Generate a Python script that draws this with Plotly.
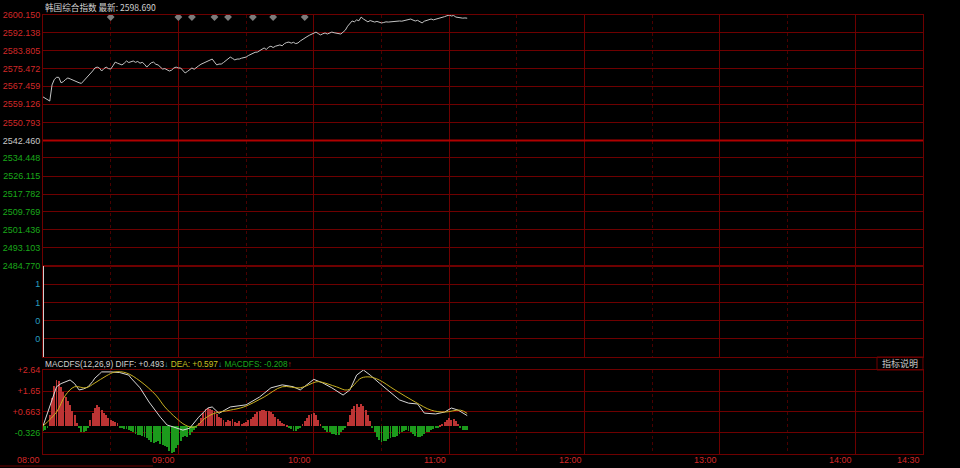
import plotly.graph_objects as go

# ---------------- data ----------------
index_name = "韩国综合指数"
latest = 2598.690
prev_close = 2542.460

price_ticks = [2600.150, 2592.138, 2583.805, 2575.472, 2567.459, 2559.126, 2550.793,
               2542.460, 2534.448, 2526.115, 2517.782, 2509.769, 2501.436, 2493.103, 2484.770]
pct_labels = ["2.27%", "1.95%", "1.63%", "1.30%", "0.98%", "0.66%", "0.33%", "0.00%",
              "0.32%", "0.64%", "0.97%", "1.29%", "1.61%", "1.94%", "2.27%"]
time_ticks = [0, 60, 120, 180, 240, 300, 360, 390]
time_labels = ["08:00", "09:00", "10:00", "11:00", "12:00", "13:00", "14:00", "14:30"]
half_hours = [30, 90, 150, 210, 270, 330]

price = [
    2562.5, 2561.8, 2561.0, 2560.6, 2568.0, 2570.5, 2571.5, 2571.5, 2569.0, 2569.5,
    2570.5, 2571.2, 2570.8, 2570.3, 2569.8, 2569.5, 2569.0, 2568.7, 2569.8, 2571.0,
    2571.8, 2573.0, 2574.4, 2575.8, 2576.2, 2575.8, 2574.4, 2575.5, 2576.2, 2575.5,
    2575.3, 2576.8, 2578.5, 2578.0, 2577.5, 2577.2, 2578.0, 2579.0, 2578.3, 2578.5,
    2579.0, 2578.4, 2578.8, 2578.0, 2578.4, 2577.5, 2576.2, 2577.3, 2578.2, 2578.5,
    2577.5, 2577.2, 2576.0, 2575.3, 2575.5, 2574.8, 2574.4, 2574.8, 2575.8, 2576.2,
    2575.8, 2575.8, 2574.6, 2573.5, 2574.2, 2575.0, 2575.8, 2575.2, 2575.8, 2576.8,
    2577.5, 2578.0, 2578.6, 2579.0, 2579.5, 2579.9, 2578.5, 2577.2, 2577.6, 2577.6,
    2578.3, 2579.2, 2580.2, 2580.8, 2580.2, 2579.5, 2579.9, 2579.9, 2580.3, 2580.6,
    2580.8, 2581.5, 2582.0, 2582.5, 2583.0, 2583.1, 2583.8, 2584.5, 2585.0, 2584.3,
    2585.4, 2585.8, 2585.2, 2585.8, 2586.2, 2586.4, 2586.0, 2587.0, 2587.5, 2587.7,
    2587.2, 2587.6, 2587.0, 2587.3, 2588.2, 2589.0, 2589.6, 2590.2, 2590.8, 2591.4,
    2591.8, 2592.3, 2591.6, 2591.0, 2591.5, 2591.9, 2591.4, 2592.0, 2592.3, 2592.0,
    2591.7, 2591.4, 2591.4, 2592.3, 2593.2, 2595.0, 2596.2, 2597.4, 2597.0, 2597.9,
    2597.5, 2599.2, 2598.3, 2597.5, 2597.0, 2597.6, 2597.4, 2596.9, 2597.2, 2596.8,
    2596.5, 2596.7, 2597.0, 2596.9, 2597.0, 2597.4, 2597.2, 2597.5, 2597.4, 2597.3,
    2597.6, 2598.0, 2598.2, 2598.3, 2597.8, 2597.4, 2597.7, 2597.2, 2596.5, 2597.3,
    2597.6, 2598.0, 2598.3, 2597.9, 2598.2, 2598.4, 2598.6, 2598.8, 2599.4, 2599.8,
    2600.1, 2599.7, 2599.9, 2599.2, 2599.0, 2598.8, 2598.7, 2598.8, 2598.69,
]
minutes = list(range(len(price)))

event_minutes = [30, 60, 66, 76, 82, 93, 102, 116]

volume_minutes = [0]
volume = [1.0]
vol_ticks = [0.2, 0.4, 0.6, 0.8]
vol_labels = ["0", "0", "1", "1"]

macd_hist = [
    -0.25, -0.2, -0.1, 0.5, 1.3, 1.9, 2.17, 2.1, 1.85, 1.6,
    1.37, 1.2, 1.0, 0.7, 0.5, 0.15, -0.1, -0.28, -0.3, -0.25,
    -0.05, 0.3, 0.6, 0.85, 1.0, 0.9, 0.75, 0.6, 0.5, 0.4,
    0.3, 0.25, 0.2, 0.15, -0.05, -0.1, -0.12, -0.15, -0.2, -0.25,
    -0.3, -0.35, -0.4, -0.42, -0.45, -0.5, -0.55, -0.65, -0.75, -0.8,
    -0.75, -0.7, -0.85, -0.9, -0.95, -1.0, -1.15, -1.27, -1.2, -1.05,
    -0.9, -0.7, -0.52, -0.45, -0.5, -0.42, -0.3, -0.2, -0.05, 0.15,
    0.4, 0.6, 0.8, 0.85, 0.8, 0.75, 0.7, 0.55, 0.45, 0.38,
    0.3, 0.2, 0.3, 0.25, 0.35, 0.2, 0.15, 0.25, 0.1, 0.15,
    0.2, 0.3, 0.35, 0.45, 0.55, 0.65, 0.7, 0.75, 0.75, 0.7,
    0.72, 0.65, 0.55, 0.45, 0.35, 0.25, 0.15, 0.1, 0.05, -0.05,
    -0.15, -0.24, -0.22, -0.15, -0.05, 0.1, 0.25, 0.4, 0.5, 0.55,
    0.6, 0.5, 0.3, 0.1, -0.1, -0.2, -0.28, -0.3, -0.35, -0.38,
    -0.42, -0.4, -0.3, -0.2, -0.1, 0.2, 0.5, 0.8, 0.95, 1.04,
    0.9, 1.04, 0.95, 0.75, 0.5, 0.25, -0.1, -0.3, -0.5, -0.65,
    -0.76, -0.72, -0.68, -0.6, -0.55, -0.52, -0.5, -0.45, -0.38, -0.3,
    -0.25, -0.2, -0.22, -0.28, -0.35, -0.45, -0.52, -0.5, -0.45, -0.38,
    -0.3, -0.28, -0.2, -0.15, -0.1, -0.05, 0.05, 0.1, 0.2, 0.3,
    0.38, 0.3, 0.35, 0.25, 0.1, -0.1, -0.18, -0.2, -0.208,
]
hist_minutes = list(range(len(macd_hist)))

diff_minutes = [0, 3, 6, 8, 10, 12, 14, 16, 18, 20, 22, 23, 25, 26, 30, 34, 38, 39, 43, 47,
                52, 55, 58, 62, 65, 69, 73, 75, 78, 83, 90, 96, 101, 106, 111, 114, 120,
                124, 128, 133, 136, 139, 142, 145, 149, 154, 158, 162, 166, 169, 174, 178,
                181, 184, 188]
diff_values = [0.0, 0.9, 1.85, 2.0, 2.08, 2.17, 2.0, 1.7, 1.75, 1.85, 2.1, 2.26, 2.45, 2.55,
               2.55, 2.52, 2.4, 2.26, 1.8, 1.13, 0.42, 0.05, -0.05, -0.19, -0.1, 0.42, 0.85,
               0.9, 0.6, 0.9, 1.0, 1.37, 1.8, 1.94, 1.85, 1.7, 2.2, 2.03, 1.8, 1.46, 1.7,
               2.4, 2.64, 2.4, 2.03, 1.56, 1.23, 1.08, 1.04, 0.61, 0.57, 0.66, 0.85, 0.75,
               0.493]

dea_minutes = [0, 6, 10, 14, 19, 23, 28, 32, 37, 43, 50, 54, 59, 63, 67, 72, 76, 83, 89, 98,
               106, 114, 121, 123, 130, 135, 141, 145, 149, 156, 165, 172, 178, 185, 188]
dea_values = [0.0, 0.66, 1.46, 1.85, 1.8, 2.03, 2.36, 2.55, 2.5, 2.12, 1.46, 0.9, 0.38, 0.05,
              -0.05, 0.38, 0.6, 0.75, 0.9, 1.37, 1.85, 1.8, 2.08, 2.08, 1.85, 1.7, 2.26, 2.31,
              2.17, 1.7, 1.13, 0.75, 0.66, 0.75, 0.597]

macd_ticks = [2.64, 1.651, 0.663, -0.326]
macd_labels = ["+2.64", "+1.65", "+0.663", "-0.326"]
macd_range = [-1.315, 2.64]

# ---------------- style ----------------
BG = "#000000"
GRID = "#6e0000"
GRID_MINOR = "#4a0000"
MID = "#b00000"
RED = "#d22828"
GREEN = "#1aa81a"
GRAY_TXT = "#c8c8c8"
TEAL = "#2a9ec0"
FONT = "Liberation Sans, Arial, Noto Sans CJK SC, sans-serif"

W, H = 960, 468
L, R, T, B = 43, 37, 15, 14
plot_h = H - T - B


def py(px):  # pixel row -> paper fraction
    return (H - B - px) / plot_h


def px_x(px):
    return (px - L) / (W - L - R)


def col(text, color):
    return f'<span style="color:{color}">{text}</span>'


price_text = []
pct_text = []
for v, p in zip(price_ticks, pct_labels):
    c = RED if v > prev_close else (GRAY_TXT if v == prev_close else GREEN)
    price_text.append(col(f"{v:.3f}", c))
    pct_text.append(col(p, c))

macd_text = [col(t, RED if v > 0 else GREEN) for v, t in zip(macd_ticks, macd_labels)]

fig = go.Figure()

fig.add_trace(go.Scatter(x=minutes, y=price, mode="lines",
                         line=dict(color="#c4c4c4", width=1), xaxis="x", yaxis="y",
                         hoverinfo="skip"))
fig.add_trace(go.Scatter(x=event_minutes, y=[0.992] * len(event_minutes), mode="markers",
                         marker=dict(symbol="diamond", size=6, color="#7c7c7c"),
                         xaxis="x", yaxis="y5", hoverinfo="skip"))
fig.add_trace(go.Bar(x=volume_minutes, y=volume, width=0.6, marker=dict(color="#d0d0d0", line=dict(width=0)),
                     xaxis="x2", yaxis="y3", hoverinfo="skip"))
fig.add_trace(go.Bar(x=hist_minutes, y=macd_hist, width=0.4,
                     marker=dict(color=["#bc3434" if v >= 0 else "#1c9a1c" for v in macd_hist],
                                 line=dict(width=0)),
                     xaxis="x3", yaxis="y4", hoverinfo="skip"))
fig.add_trace(go.Scatter(x=diff_minutes, y=diff_values, mode="lines",
                         line=dict(color="#d8d8d8", width=1), xaxis="x3", yaxis="y4",
                         hoverinfo="skip"))
fig.add_trace(go.Scatter(x=dea_minutes, y=dea_values, mode="lines", line_shape="spline",
                         line=dict(color="#c8b020", width=1), xaxis="x3", yaxis="y4",
                         hoverinfo="skip"))

xcommon = dict(range=[0, 390], tickmode="array", tickvals=time_ticks[:-1], showticklabels=False,
               showgrid=True, gridcolor=GRID, gridwidth=1, zeroline=False, automargin=False,
               showline=True, mirror=True, linecolor=GRID, linewidth=1, ticks="",
               minor=dict(tickmode="array", tickvals=half_hours, showgrid=True,
                          gridcolor=GRID_MINOR, griddash="dot", gridwidth=1))

ycommon = dict(showgrid=True, gridcolor=GRID, gridwidth=1, zeroline=False, ticks="",
               showline=True, mirror=True, linecolor=GRID, linewidth=1, automargin=False,
               tickfont=dict(size=9, family=FONT, color=GRAY_TXT), tickmode="array")

price_dom = [py(266), 1.0]
vol_dom = [py(357), py(266)]
macd_dom = [0.0, py(370)]

fig.update_layout(
    width=W, height=H, margin=dict(l=L, r=R, t=T, b=B, autoexpand=False),
    paper_bgcolor=BG, plot_bgcolor=BG, showlegend=False, bargap=0,
    font=dict(family=FONT, size=9, color=GRAY_TXT),
    xaxis=dict(anchor="y", **xcommon),
    xaxis2=dict(anchor="y3", matches="x", **xcommon),
    xaxis3=dict(anchor="y4", matches="x", **xcommon),
    yaxis=dict(domain=price_dom, range=[price_ticks[-1], price_ticks[0]],
               tickvals=price_ticks, ticktext=price_text, anchor="x", **ycommon),
    yaxis2=dict(overlaying="y", side="right", anchor="x", range=[price_ticks[-1], price_ticks[0]],
                tickmode="array", tickvals=price_ticks, ticktext=pct_text, showgrid=False,
                zeroline=False, showline=False, ticks="", automargin=False,
                tickfont=dict(size=9, family=FONT, color=GRAY_TXT)),
    yaxis3=dict(domain=vol_dom, range=[0, 1], tickvals=vol_ticks,
                ticktext=[col(t, TEAL) for t in vol_labels], anchor="x2", **ycommon),
    yaxis4=dict(domain=macd_dom, range=macd_range, tickvals=macd_ticks, ticktext=macd_text,
                anchor="x3", **ycommon),
    yaxis5=dict(overlaying="y", range=[0, 1], visible=False, anchor="x"),
)

shapes = [
    dict(type="line", xref="paper", yref="y", x0=0, x1=1, y0=prev_close, y1=prev_close,
         line=dict(color=MID, width=2), layer="above"),
    dict(type="rect", xref="paper", yref="paper", x0=px_x(877), x1=1.0, y0=py(370), y1=py(357),
         line=dict(color=GRID, width=1)),
    dict(type="line", xref="paper", yref="paper", x0=px_x(0), x1=px_x(153), y0=py(466), y1=py(466),
         line=dict(color=GRID, width=1)),
]
fig.update_layout(shapes=shapes)

annotations = [
    dict(xref="paper", yref="paper", x=0, y=py(7), xanchor="left", yanchor="middle",
         text=f"{index_name} 最新: {latest:.3f}", showarrow=False,
         font=dict(size=8.6, color="#d0d0d0", family="Noto Sans CJK SC, Liberation Sans")),
    dict(xref="paper", yref="paper", x=0, y=py(363.5), xanchor="left", yanchor="middle",
         text=(col(f"MACDFS(12,26,9) DIFF: {diff_values[-1]:+.3f}", "#d0d0d0") + col("↓", TEAL) + " "
               + col(f"DEA: {dea_values[-1]:+.3f}", "#c8c020") + col("↓", TEAL) + " "
               + col(f"MACDFS: {macd_hist[-1]:+.3f}", GREEN) + col("↑", RED)),
         showarrow=False, font=dict(size=8.3, family=FONT)),
    dict(xref="paper", yref="paper", x=px_x(900), y=py(363.5), xanchor="center", yanchor="middle",
         text="指标说明", showarrow=False,
         font=dict(size=9, color="#c8c8c8", family="Noto Sans CJK SC")),
]
for t, lab in zip(time_ticks, time_labels):
    annotations.append(dict(xref="x3", yref="paper", x=t, y=py(460), xanchor="right",
                            yanchor="middle", text=lab, showarrow=False, xshift=-1,
                            font=dict(size=9, color=RED, family=FONT)))
fig.update_layout(annotations=annotations)

fig.write_html("out.html", config={"displayModeBar": False},
               post_script="document.body.style.margin='0';document.body.style.overflow='hidden';")
